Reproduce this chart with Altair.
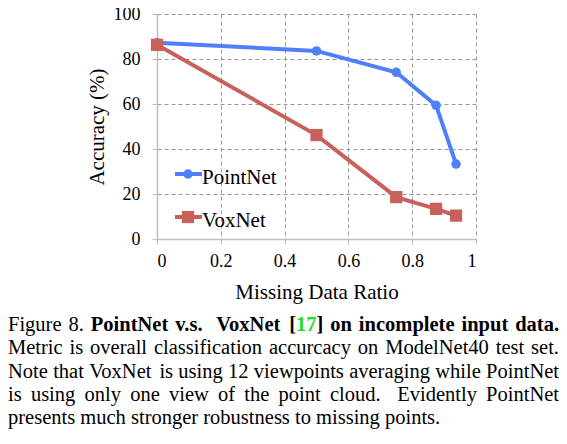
import altair as alt
import pandas as pd

# values
ratio = [0.0, 0.5, 0.75, 0.875, 0.9375]
pointnet = [87.2, 83.6, 74.1, 59.4, 33.3]
voxnet = [86.3, 46.2, 18.6, 13.4, 10.4]
series_names = ["PointNet", "VoxNet"]
colors = ["#4F7FFB", "#C8605B"]
x_ticks = [0, 0.2, 0.4, 0.6, 0.8, 1]
y_ticks = [0, 20, 40, 60, 80, 100]

# caption: first line as (text, style) pieces per word, r = regular, b = bold, g = bold green
caption_head = [
    [("Figure", "r")], [("8.", "r")], [("PointNet", "b")], [("v.s.", "b")], None,
    [("VoxNet", "b")], [("[", "b"), ("17", "g"), ("]", "b")], [("on", "b")],
    [("incomplete", "b")], [("input", "b")], [("data.", "b")],
]
caption_body = [
    "Metric is overall classification accurcacy on ModelNet40 test set.",
    "Note that VoxNet is using 12 viewpoints averaging while PointNet",
    "is using only one view of the point cloud.  Evidently PointNet",
    "presents much stronger robustness to missing points.",
]
justified = [True, True, True, True, False]

FONT = "Liberation Serif"
CAP = 20.5

# Times advance widths (per 1000 em), used to justify the caption lines
REG = dict(zip("abcdefghijklmnopqrstuvwxyz",
               [444, 500, 444, 500, 444, 333, 500, 500, 278, 278, 500, 278, 778, 500, 500, 500,
                500, 333, 389, 278, 500, 500, 722, 500, 500, 444]))
REG.update({"M": 889, "N": 722, "P": 556, "V": 722, "E": 611, "F": 556, ".": 250, "[": 333, "]": 333})
BOLD = dict(zip("abcdefghijklmnopqrstuvwxyz",
                [500, 556, 444, 556, 444, 333, 500, 556, 278, 333, 556, 278, 833, 556, 500, 556,
                 556, 444, 389, 333, 556, 500, 722, 500, 500, 444]))
BOLD.update({"M": 944, "N": 722, "P": 611, "V": 722, "F": 611, ".": 250, "[": 333, "]": 333})


def seg_width(text, style):
    table = REG if style == "r" else BOLD
    return sum(table.get(ch, 500) for ch in text) / 1000 * CAP


def tokens(line):
    if isinstance(line, list):
        out, w = [], 1.0
        for word in line:
            if word is None:
                out[-1] = (out[-1][0], 1.8)
                continue
            out.append((word, 1.0))
        return out
    out = []
    for part in line.split(" "):
        if part == "":
            out[-1] = (out[-1][0], 1.8)
        else:
            out.append(([(part, "r")], 1.0))
    return out


L, R = -149, 402
y0, dy = 317, 23.3
rows = []
for i, line in enumerate([caption_head] + caption_body):
    toks = tokens(line)
    widths = [sum(seg_width(t, s) for t, s in word) for word, _ in toks]
    gaps = [g for _, g in toks[:-1]]
    unit = (R - L - sum(widths)) / sum(gaps) if justified[i] else 0.25 * CAP
    x = L
    for (word, g), w in zip(toks, widths):
        sx = x
        for t, s in word:
            rows.append({"text": t, "style": s, "px": sx, "py": y0 + i * dy})
            sx += seg_width(t, s)
        x += w + g * unit
cap_df = pd.DataFrame(rows)

source = pd.DataFrame({
    "ratio": ratio + ratio,
    "accuracy": pointnet + voxnet,
    "series": [series_names[0]] * len(ratio) + [series_names[1]] * len(ratio),
})

xenc = alt.X("ratio:Q", scale=alt.Scale(domain=[0, 1], nice=False),
             axis=alt.Axis(values=x_ticks, format="~g", title="Missing Data Ratio",
                           labelPadding=8, titlePadding=11))
yenc = alt.Y("accuracy:Q", scale=alt.Scale(domain=[0, 100], nice=False),
             axis=alt.Axis(values=y_ticks, title="Accuracy (%)",
                           labelPadding=12, titlePadding=6))
color = alt.Color("series:N", scale=alt.Scale(domain=series_names, range=colors), legend=None)

lines = alt.Chart(source).mark_line(strokeWidth=4).encode(
    x=xenc, y=yenc, color=color, detail="series:N"
)
points = alt.Chart(source).mark_point(filled=True, opacity=1).encode(
    x="ratio:Q", y="accuracy:Q", color=color,
    shape=alt.Shape("series:N", scale=alt.Scale(domain=series_names, range=["circle", "square"]), legend=None),
    size=alt.Size("series:N", scale=alt.Scale(domain=series_names, range=[90, 150]), legend=None),
)

one = pd.DataFrame({"k": [0]})


def legend_entry(name, col, shape, size, ly):
    rule = alt.Chart(one).mark_rule(color=col, strokeWidth=4).encode(
        x=alt.value(18), x2=alt.value(45), y=alt.value(ly))
    mark = alt.Chart(one).mark_point(filled=True, opacity=1, color=col, shape=shape, size=size).encode(
        x=alt.value(31), y=alt.value(ly))
    label = alt.Chart(one).mark_text(align="left", baseline="alphabetic", font=FONT,
                                     fontSize=21, color="black").encode(
        x=alt.value(45), y=alt.value(ly + 10), text=alt.value(name))
    return rule + mark + label


def caption_layer(style, weight, col):
    return alt.Chart(cap_df).transform_filter(f"datum.style == '{style}'").mark_text(
        align="left", baseline="alphabetic", font=FONT, fontSize=CAP, fontWeight=weight, color=col
    ).encode(
        x=alt.X("px:Q", scale=None, axis=None),
        y=alt.Y("py:Q", scale=None, axis=None),
        text="text:N",
    )


caption = (caption_layer("r", "normal", "black") + caption_layer("b", "bold", "black")
           + caption_layer("g", "bold", "#22dd22"))

chart = alt.layer(
    lines, points,
    legend_entry(series_names[0], colors[0], "circle", 90, 160),
    legend_entry(series_names[1], colors[1], "square", 150, 203),
    caption,
).properties(
    width=319, height=225,
    autosize=alt.AutoSizeParams(type="none"),
    padding={"left": 149, "top": 6, "right": 83, "bottom": 193},
    background="white",
).configure_axis(
    labelFont=FONT, titleFont=FONT, labelFontSize=18, titleFontSize=21,
    titleFontWeight="normal", labelColor="black", titleColor="black",
    domainColor="#BFBFBF", domainWidth=1.5, tickColor="#BFBFBF", tickSize=5,
    gridColor="#999999", gridDash=[4, 3], gridWidth=1,
).configure_view(strokeWidth=0)

chart.save("out.html", embed_options={"renderer": "svg", "actions": False})
